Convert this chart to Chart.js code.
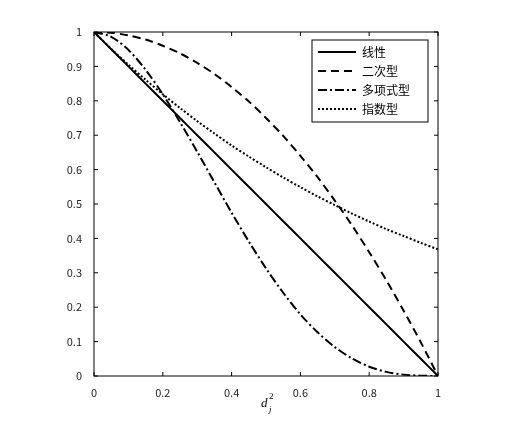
<!DOCTYPE html>
<html><head><meta charset="utf-8">
<script src="https://cdn.jsdelivr.net/npm/chart.js@4"></script>
<style>body{margin:0;background:#fff}#wrap{width:516px;height:422px}</style>
</head><body><div id="wrap"><canvas id="c"></canvas></div>
<script>
// Datos (x en pasos de 0.05)
const xs = [0,0.05,0.1,0.15,0.2,0.25,0.3,0.35,0.4,0.45,0.5,0.55,0.6,0.65,0.7,0.75,0.8,0.85,0.9,0.95,1];
const lineal = [1,0.95,0.9,0.85,0.8,0.75,0.7,0.65,0.6,0.55,0.5,0.45,0.4,0.35,0.3,0.25,0.2,0.15,0.1,0.05,0];
const cuadratica = [1,0.998,0.99,0.978,0.96,0.938,0.91,0.878,0.84,0.798,0.75,0.698,0.64,0.578,0.51,0.438,0.36,0.278,0.19,0.098,0];
const polinomial = [1,0.986,0.948,0.89,0.819,0.738,0.652,0.563,0.475,0.391,0.313,0.242,0.179,0.127,0.084,0.051,0.027,0.012,0.004,0.001,0];
const exponencial = [1,0.951,0.905,0.861,0.819,0.779,0.741,0.705,0.67,0.638,0.607,0.577,0.549,0.522,0.497,0.472,0.449,0.427,0.407,0.387,0.368];
const nombres = ['线性','二次型','多项式型','指数型'];
const ticksX = [0,0.2,0.4,0.6,0.8,1];
const ticksY = [0,0.1,0.2,0.3,0.4,0.5,0.6,0.7,0.8,0.9,1];
const guiones = [[], [8,5], [9,3,2,3], [2,2]];

const pts = (ys) => xs.map((x, i) => ({ x, y: ys[i] }));
const FONT = '"Noto Sans CJK SC", "Liberation Sans", sans-serif';
const etiqueta = (v) => String(Math.round(v * 10) / 10);

// Marco, marcas hacia dentro, leyenda y etiqueta del eje X
const marco = {
    id: 'marco',
    afterDraw(chart) {
        const { ctx, chartArea: a, scales: { x, y } } = chart;
        ctx.save();
        ctx.strokeStyle = '#000'; ctx.lineWidth = 1;
        ctx.strokeRect(a.left, a.top, a.right - a.left, a.bottom - a.top);
        ctx.beginPath();
        ticksX.forEach((v) => { const p = x.getPixelForValue(v); ctx.moveTo(p, a.bottom); ctx.lineTo(p, a.bottom - 4); ctx.moveTo(p, a.top); ctx.lineTo(p, a.top + 4); });
        ticksY.forEach((v) => { const p = y.getPixelForValue(v); ctx.moveTo(a.left, p); ctx.lineTo(a.left + 4, p); ctx.moveTo(a.right, p); ctx.lineTo(a.right - 4, p); });
        ctx.stroke();
        // Leyenda
        const lx = 312, ly = 40, lw = 116, lh = 82;
        ctx.fillStyle = '#fff'; ctx.fillRect(lx, ly, lw, lh);
        ctx.strokeRect(lx, ly, lw, lh);
        ctx.font = '12px ' + FONT; ctx.textBaseline = 'middle'; ctx.fillStyle = '#000';
        nombres.forEach((n, i) => {
            const yy = ly + 12 + i * 19;
            ctx.setLineDash(guiones[i]); ctx.lineWidth = 2;
            ctx.beginPath(); ctx.moveTo(lx + 6, yy); ctx.lineTo(lx + 44, yy); ctx.stroke();
            ctx.setLineDash([]);
            ctx.fillText(n, lx + 50, yy);
        });
        // d_j^2
        ctx.font = 'italic 13px "Liberation Serif", serif';
        ctx.fillText('d', 261, 404);
        ctx.font = 'italic 9px "Liberation Serif", serif';
        ctx.fillText('j', 269, 410);
        ctx.font = '9px "Liberation Serif", serif';
        ctx.fillText('2', 269, 397);
        ctx.restore();
    }
};

const conjunto = (ys, i) => ({
    label: nombres[i], data: pts(ys), showLine: true, pointRadius: 0,
    borderColor: '#000', borderWidth: 2, borderDash: guiones[i], tension: 0.3
});

new Chart(document.getElementById('c'), {
    type: 'scatter',
    data: { datasets: [conjunto(lineal, 0), conjunto(cuadratica, 1), conjunto(polinomial, 2), conjunto(exponencial, 3)] },
    options: {
        responsive: true, maintainAspectRatio: false, animation: false,
        layout: { padding: { top: 32, right: 78, left: 0, bottom: 0 } },
        plugins: { legend: { display: false }, tooltip: { enabled: false } },
        scales: {
            x: {
                type: 'linear', min: 0, max: 1,
                afterBuildTicks: (s) => { s.ticks = ticksX.map((v) => ({ value: v })); },
                afterFit: (s) => { s.height = 46; },
                grid: { display: false }, border: { display: false },
                ticks: { color: '#222', font: { size: 11, family: FONT }, padding: 2, callback: etiqueta }
            },
            y: {
                min: 0, max: 1,
                afterBuildTicks: (s) => { s.ticks = ticksY.map((v) => ({ value: v })); },
                afterFit: (s) => { s.width = 94; },
                grid: { display: false }, border: { display: false },
                ticks: { color: '#222', font: { size: 11, family: FONT }, padding: 4, callback: etiqueta }
            }
        }
    },
    plugins: [marco]
});
</script></body></html>
